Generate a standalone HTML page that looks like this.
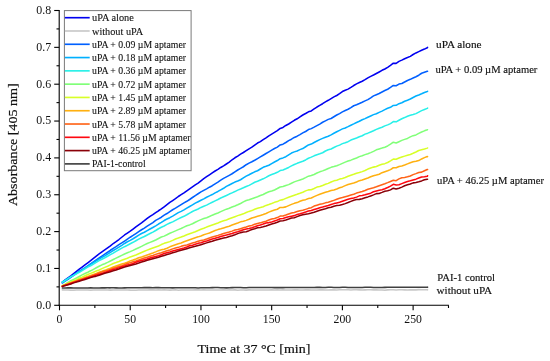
<!DOCTYPE html>
<html lang="en"><head><meta charset="utf-8"><title>Absorbance chart</title>
<style>html,body{margin:0;padding:0;background:#fff}body{width:550px;height:361px;overflow:hidden;position:relative}</style></head>
<body>
<svg width="550" height="361" viewBox="0 0 550 361" style="display:block;position:absolute;left:0;top:0">
<rect width="550" height="361" fill="#fff"/>
<g fill="none" stroke-width="1.55" stroke-linejoin="round" stroke-linecap="round">
<path d="M62.33 289.87 L65.16 289.91 L67.99 289.94 L70.82 290.19 L73.64 290.17 L76.47 290.07 L79.30 290.07 L82.13 290.09 L84.96 290.06 L87.79 289.96 L90.62 290.15 L93.45 290.01 L96.28 290.08 L99.11 290.08 L101.94 290.06 L104.76 289.94 L107.59 289.99 L110.42 290.11 L113.25 289.98 L116.08 290.00 L118.91 289.97 L121.74 290.04 L124.57 289.90 L127.40 289.97 L130.23 290.13 L133.05 290.15 L135.88 290.16 L138.71 289.96 L141.54 290.07 L144.37 290.03 L147.20 290.00 L150.03 289.86 L152.86 289.75 L155.69 290.00 L158.51 289.76 L161.34 289.92 L164.17 289.85 L167.00 290.01 L169.83 290.12 L172.66 289.92 L175.49 289.83 L178.32 290.15 L181.15 289.98 L183.98 289.95 L186.81 289.90 L189.63 290.09 L192.46 290.03 L195.29 289.86 L198.12 289.76 L200.95 289.95 L203.78 289.85 L206.61 289.94 L209.44 289.91 L212.27 290.00 L215.09 289.98 L217.92 290.01 L220.75 289.94 L223.58 289.82 L226.41 289.92 L229.24 289.87 L232.07 290.01 L234.90 289.86 L237.73 290.29 L240.56 290.09 L243.39 289.97 L246.21 290.13 L249.04 289.87 L251.87 289.91 L254.70 290.03 L257.53 289.92 L260.36 290.09 L263.19 290.02 L266.02 289.96 L268.85 290.10 L271.68 289.80 L274.50 289.99 L277.33 289.80 L280.16 289.93 L282.99 289.88 L285.82 290.01 L288.65 289.94 L291.48 289.95 L294.31 289.88 L297.14 289.75 L299.97 289.96 L302.79 289.92 L305.62 289.86 L308.45 289.80 L311.28 289.91 L314.11 289.93 L316.94 289.95 L319.77 289.89 L322.60 289.86 L325.43 289.96 L328.25 289.92 L331.08 289.80 L333.91 289.88 L336.74 289.94 L339.57 289.80 L342.40 289.80 L345.23 289.80 L348.06 289.80 L350.89 289.91 L353.72 289.84 L356.55 289.83 L359.37 289.85 L362.20 290.06 L365.03 289.86 L367.86 289.82 L370.69 289.80 L373.52 289.89 L376.35 289.85 L379.18 290.05 L382.01 290.02 L384.84 290.18 L387.66 289.87 L390.49 289.67 L393.32 289.65 L396.15 289.97 L398.98 289.77 L401.81 289.70 L404.64 289.87 L407.47 290.05 L410.30 289.68 L413.12 289.87 L415.95 289.87 L418.78 289.64 L421.61 289.77 L424.44 289.73 L427.27 289.65 L427.55 289.84" stroke="#c8c8c8"/>
<path d="M62.33 288.00 L65.16 287.96 L67.99 287.89 L70.82 287.89 L73.64 287.93 L76.47 287.97 L79.30 287.98 L82.13 287.96 L84.96 287.96 L87.79 287.92 L90.62 287.88 L93.45 287.94 L96.28 287.94 L99.11 287.98 L101.94 287.85 L104.76 287.85 L107.59 287.83 L110.42 287.85 L113.25 287.80 L116.08 287.87 L118.91 288.00 L121.74 287.98 L124.57 287.87 L127.40 287.76 L130.23 287.75 L133.05 287.79 L135.88 287.82 L138.71 287.74 L141.54 287.74 L144.37 287.63 L147.20 287.64 L150.03 287.60 L152.86 287.65 L155.69 287.57 L158.51 287.62 L161.34 287.68 L164.17 287.65 L167.00 287.76 L169.83 287.83 L172.66 287.86 L175.49 287.78 L178.32 287.79 L181.15 287.75 L183.98 287.69 L186.81 287.71 L189.63 287.68 L192.46 287.76 L195.29 287.82 L198.12 287.90 L200.95 287.80 L203.78 287.76 L206.61 287.68 L209.44 287.70 L212.27 287.64 L215.09 287.59 L217.92 287.58 L220.75 287.73 L223.58 287.83 L226.41 287.86 L229.24 287.73 L232.07 287.60 L234.90 287.59 L237.73 287.58 L240.56 287.58 L243.39 287.65 L246.21 287.70 L249.04 287.58 L251.87 287.47 L254.70 287.57 L257.53 287.58 L260.36 287.57 L263.19 287.55 L266.02 287.57 L268.85 287.52 L271.68 287.54 L274.50 287.61 L277.33 287.59 L280.16 287.64 L282.99 287.62 L285.82 287.59 L288.65 287.47 L291.48 287.49 L294.31 287.50 L297.14 287.47 L299.97 287.49 L302.79 287.52 L305.62 287.51 L308.45 287.51 L311.28 287.58 L314.11 287.51 L316.94 287.37 L319.77 287.36 L322.60 287.42 L325.43 287.42 L328.25 287.32 L331.08 287.28 L333.91 287.41 L336.74 287.53 L339.57 287.48 L342.40 287.27 L345.23 287.28 L348.06 287.42 L350.89 287.48 L353.72 287.46 L356.55 287.41 L359.37 287.46 L362.20 287.41 L365.03 287.35 L367.86 287.27 L370.69 287.35 L373.52 287.47 L376.35 287.55 L379.18 287.47 L382.01 287.44 L384.84 287.38 L387.66 287.28 L390.49 287.21 L393.32 287.28 L396.15 287.30 L398.98 287.21 L401.81 287.22 L404.64 287.29 L407.47 287.31 L410.30 287.29 L413.12 287.26 L415.95 287.23 L418.78 287.16 L421.61 287.24 L424.44 287.24 L427.27 287.21 L427.55 287.14" stroke="#404040"/>
<path d="M62.33 282.03 L65.16 279.92 L67.99 277.87 L70.82 275.83 L73.64 273.58 L76.47 271.36 L79.30 269.19 L82.13 267.05 L84.96 264.87 L87.79 262.77 L90.62 260.65 L93.45 258.31 L96.28 256.07 L99.11 253.90 L101.94 251.94 L104.76 249.93 L107.59 247.89 L110.42 245.80 L113.25 243.52 L116.08 241.57 L118.91 239.52 L121.74 237.25 L124.57 234.98 L127.40 233.03 L130.23 231.14 L133.05 229.03 L135.88 226.82 L138.71 224.82 L141.54 222.86 L144.37 220.72 L147.20 218.47 L150.03 216.37 L152.86 214.68 L155.69 212.72 L158.51 210.77 L161.34 208.91 L164.17 206.78 L167.00 204.61 L169.83 202.37 L172.66 200.53 L175.49 198.70 L178.32 196.51 L181.15 194.64 L183.98 192.86 L186.81 190.79 L189.63 188.79 L192.46 186.83 L195.29 184.88 L198.12 183.14 L200.95 180.94 L203.78 178.72 L206.61 176.73 L209.44 174.78 L212.27 172.82 L215.09 171.00 L217.92 169.39 L220.75 167.46 L223.58 165.85 L226.41 163.98 L229.24 162.09 L232.07 159.77 L234.90 157.77 L237.73 156.05 L240.56 154.08 L243.39 152.50 L246.21 150.66 L249.04 148.85 L251.87 147.15 L254.70 145.04 L257.53 143.04 L260.36 141.57 L263.19 139.65 L266.02 137.82 L268.85 135.81 L271.68 134.14 L274.50 132.41 L277.33 130.66 L280.16 128.42 L282.99 127.49 L285.82 125.49 L288.65 124.00 L291.48 122.11 L294.31 120.29 L297.14 118.78 L299.97 116.89 L302.79 114.99 L305.62 113.53 L308.45 111.79 L311.28 110.90 L314.11 108.93 L316.94 107.04 L319.77 105.37 L322.60 103.71 L325.43 101.87 L328.25 100.30 L331.08 98.58 L333.91 96.86 L336.74 95.48 L339.57 93.67 L342.40 91.57 L345.23 90.24 L348.06 89.14 L350.89 87.40 L353.72 85.53 L356.55 83.84 L359.37 82.53 L362.20 81.23 L365.03 79.68 L367.86 77.86 L370.69 76.37 L373.52 75.04 L376.35 73.53 L379.18 71.96 L382.01 70.32 L384.84 68.98 L387.66 67.30 L390.49 65.37 L393.32 63.19 L396.15 63.38 L398.98 61.36 L401.81 60.15 L404.64 58.71 L407.47 57.57 L410.30 56.34 L413.12 54.50 L415.95 52.94 L418.78 51.61 L421.61 50.24 L424.44 49.08 L427.27 47.76 L427.55 47.39" stroke="#0000f0"/>
<path d="M62.33 282.99 L65.16 281.11 L67.99 279.27 L70.82 277.29 L73.64 275.40 L76.47 273.44 L79.30 271.42 L82.13 269.61 L84.96 267.81 L87.79 265.81 L90.62 263.76 L93.45 261.76 L96.28 259.79 L99.11 257.99 L101.94 256.01 L104.76 254.11 L107.59 252.25 L110.42 250.27 L113.25 248.44 L116.08 246.64 L118.91 244.68 L121.74 242.95 L124.57 241.02 L127.40 239.09 L130.23 237.22 L133.05 235.46 L135.88 233.57 L138.71 231.66 L141.54 229.75 L144.37 228.06 L147.20 226.20 L150.03 224.42 L152.86 222.57 L155.69 220.39 L158.51 218.83 L161.34 217.21 L164.17 215.18 L167.00 213.52 L169.83 211.62 L172.66 209.76 L175.49 208.16 L178.32 206.42 L181.15 204.63 L183.98 202.88 L186.81 201.30 L189.63 199.50 L192.46 197.50 L195.29 195.53 L198.12 193.73 L200.95 191.89 L203.78 190.32 L206.61 188.82 L209.44 187.20 L212.27 185.71 L215.09 183.93 L217.92 182.10 L220.75 180.17 L223.58 178.40 L226.41 176.89 L229.24 175.33 L232.07 173.74 L234.90 171.85 L237.73 170.02 L240.56 168.37 L243.39 166.75 L246.21 164.72 L249.04 163.12 L251.87 161.78 L254.70 160.28 L257.53 158.61 L260.36 156.89 L263.19 155.24 L266.02 153.52 L268.85 151.79 L271.68 150.06 L274.50 148.54 L277.33 147.17 L280.16 144.98 L282.99 144.17 L285.82 142.51 L288.65 140.62 L291.48 139.19 L294.31 137.46 L297.14 136.17 L299.97 134.60 L302.79 132.92 L305.62 131.51 L308.45 129.60 L311.28 128.62 L314.11 127.18 L316.94 125.65 L319.77 124.06 L322.60 122.24 L325.43 120.83 L328.25 119.38 L331.08 118.52 L333.91 116.74 L336.74 115.01 L339.57 113.59 L342.40 111.92 L345.23 110.54 L348.06 109.28 L350.89 107.56 L353.72 105.73 L356.55 104.70 L359.37 103.52 L362.20 102.23 L365.03 100.86 L367.86 99.66 L370.69 97.91 L373.52 95.91 L376.35 94.68 L379.18 93.48 L382.01 91.97 L384.84 90.48 L387.66 89.25 L390.49 87.44 L393.32 85.45 L396.15 85.70 L398.98 84.11 L401.81 83.54 L404.64 82.04 L407.47 80.47 L410.30 79.33 L413.12 77.98 L415.95 76.75 L418.78 75.22 L421.61 73.25 L424.44 72.29 L427.27 71.27 L427.55 71.19" stroke="#0060ff"/>
<path d="M62.33 282.20 L65.16 280.31 L67.99 278.48 L70.82 276.67 L73.64 275.06 L76.47 273.18 L79.30 271.43 L82.13 269.73 L84.96 267.84 L87.79 266.12 L90.62 264.21 L93.45 262.48 L96.28 260.77 L99.11 259.06 L101.94 257.36 L104.76 255.84 L107.59 254.03 L110.42 252.29 L113.25 250.52 L116.08 248.79 L118.91 247.09 L121.74 245.44 L124.57 243.47 L127.40 241.72 L130.23 240.33 L133.05 238.72 L135.88 236.97 L138.71 235.15 L141.54 233.51 L144.37 232.21 L147.20 230.64 L150.03 229.04 L152.86 227.47 L155.69 225.83 L158.51 224.03 L161.34 222.41 L164.17 220.53 L167.00 218.98 L169.83 217.68 L172.66 216.17 L175.49 214.42 L178.32 212.64 L181.15 211.33 L183.98 209.89 L186.81 208.12 L189.63 206.48 L192.46 204.94 L195.29 203.16 L198.12 201.70 L200.95 200.27 L203.78 198.88 L206.61 197.30 L209.44 195.86 L212.27 194.55 L215.09 192.85 L217.92 191.45 L220.75 189.85 L223.58 188.29 L226.41 186.39 L229.24 184.95 L232.07 183.47 L234.90 182.07 L237.73 181.04 L240.56 179.75 L243.39 177.93 L246.21 176.18 L249.04 174.75 L251.87 173.21 L254.70 171.84 L257.53 170.72 L260.36 168.99 L263.19 167.29 L266.02 166.32 L268.85 165.22 L271.68 163.56 L274.50 162.02 L277.33 160.54 L280.16 158.66 L282.99 157.90 L285.82 156.69 L288.65 154.79 L291.48 153.06 L294.31 151.87 L297.14 150.95 L299.97 149.61 L302.79 148.57 L305.62 146.77 L308.45 144.92 L311.28 144.08 L314.11 142.52 L316.94 141.06 L319.77 139.61 L322.60 138.37 L325.43 137.22 L328.25 136.29 L331.08 134.89 L333.91 133.30 L336.74 131.77 L339.57 130.34 L342.40 128.88 L345.23 127.94 L348.06 126.63 L350.89 125.19 L353.72 123.91 L356.55 122.55 L359.37 121.29 L362.20 119.75 L365.03 118.60 L367.86 117.20 L370.69 115.95 L373.52 114.63 L376.35 113.77 L379.18 112.34 L382.01 111.09 L384.84 109.66 L387.66 108.30 L390.49 107.28 L393.32 105.43 L396.15 105.35 L398.98 103.67 L401.81 102.69 L404.64 101.25 L407.47 100.18 L410.30 98.96 L413.12 97.45 L415.95 96.04 L418.78 95.00 L421.61 93.79 L424.44 92.46 L427.27 91.47 L427.55 91.26" stroke="#00b0ff"/>
<path d="M62.33 282.24 L65.16 280.49 L67.99 278.67 L70.82 276.92 L73.64 275.37 L76.47 273.85 L79.30 272.29 L82.13 270.56 L84.96 268.80 L87.79 267.18 L90.62 265.73 L93.45 264.05 L96.28 262.31 L99.11 260.64 L101.94 259.21 L104.76 257.78 L107.59 256.24 L110.42 254.66 L113.25 253.06 L116.08 251.34 L118.91 249.72 L121.74 248.19 L124.57 246.68 L127.40 245.30 L130.23 243.78 L133.05 242.31 L135.88 240.73 L138.71 239.11 L141.54 237.81 L144.37 236.54 L147.20 234.95 L150.03 233.50 L152.86 232.13 L155.69 230.53 L158.51 228.77 L161.34 227.23 L164.17 225.98 L167.00 224.43 L169.83 223.01 L172.66 221.85 L175.49 220.38 L178.32 218.89 L181.15 217.54 L183.98 216.32 L186.81 214.75 L189.63 213.07 L192.46 211.55 L195.29 210.17 L198.12 208.98 L200.95 207.43 L203.78 206.24 L206.61 205.14 L209.44 203.61 L212.27 202.27 L215.09 200.87 L217.92 199.51 L220.75 198.03 L223.58 196.81 L226.41 195.55 L229.24 194.08 L232.07 192.84 L234.90 191.58 L237.73 190.10 L240.56 189.00 L243.39 187.82 L246.21 186.57 L249.04 185.38 L251.87 183.83 L254.70 182.21 L257.53 181.22 L260.36 180.01 L263.19 178.84 L266.02 177.41 L268.85 175.74 L271.68 174.55 L274.50 173.57 L277.33 172.33 L280.16 170.61 L282.99 169.99 L285.82 168.76 L288.65 167.43 L291.48 165.92 L294.31 164.54 L297.14 163.35 L299.97 162.33 L302.79 161.29 L305.62 159.93 L308.45 158.27 L311.28 157.14 L314.11 155.84 L316.94 154.67 L319.77 153.77 L322.60 152.74 L325.43 151.01 L328.25 149.74 L331.08 148.97 L333.91 147.53 L336.74 146.13 L339.57 145.14 L342.40 143.62 L345.23 142.73 L348.06 141.67 L350.89 140.05 L353.72 138.98 L356.55 137.97 L359.37 136.71 L362.20 135.76 L365.03 134.11 L367.86 133.16 L370.69 131.96 L373.52 130.78 L376.35 129.41 L379.18 128.19 L382.01 127.25 L384.84 125.89 L387.66 124.88 L390.49 123.58 L393.32 121.61 L396.15 121.85 L398.98 120.28 L401.81 118.73 L404.64 117.58 L407.47 116.22 L410.30 115.23 L413.12 114.57 L415.95 113.63 L418.78 112.13 L421.61 110.62 L424.44 109.50 L427.27 108.40 L427.55 108.10" stroke="#28f0e8"/>
<path d="M62.33 285.60 L65.16 284.07 L67.99 282.36 L70.82 280.70 L73.64 279.36 L76.47 278.03 L79.30 276.46 L82.13 274.93 L84.96 273.50 L87.79 272.20 L90.62 270.82 L93.45 269.31 L96.28 267.78 L99.11 266.22 L101.94 264.82 L104.76 263.70 L107.59 262.38 L110.42 260.95 L113.25 259.55 L116.08 258.10 L118.91 256.72 L121.74 255.35 L124.57 253.95 L127.40 252.78 L130.23 251.64 L133.05 250.39 L135.88 249.02 L138.71 247.73 L141.54 246.42 L144.37 244.85 L147.20 243.53 L150.03 242.36 L152.86 241.19 L155.69 240.00 L158.51 238.54 L161.34 237.05 L164.17 236.12 L167.00 234.69 L169.83 233.27 L172.66 232.10 L175.49 230.90 L178.32 229.62 L181.15 228.53 L183.98 227.10 L186.81 225.79 L189.63 224.89 L192.46 223.72 L195.29 222.31 L198.12 220.90 L200.95 219.63 L203.78 218.59 L206.61 217.67 L209.44 216.55 L212.27 215.17 L215.09 213.97 L217.92 212.97 L220.75 211.67 L223.58 210.35 L226.41 209.16 L229.24 208.22 L232.07 207.01 L234.90 206.02 L237.73 204.82 L240.56 203.47 L243.39 201.91 L246.21 200.53 L249.04 199.81 L251.87 198.78 L254.70 197.68 L257.53 196.82 L260.36 195.57 L263.19 194.50 L266.02 192.97 L268.85 191.76 L271.68 190.91 L274.50 189.94 L277.33 188.52 L280.16 186.98 L282.99 186.50 L285.82 185.45 L288.65 184.62 L291.48 183.20 L294.31 181.88 L297.14 180.88 L299.97 179.93 L302.79 178.96 L305.62 177.63 L308.45 176.16 L311.28 175.53 L314.11 174.46 L316.94 173.07 L319.77 171.85 L322.60 170.87 L325.43 169.69 L328.25 168.44 L331.08 167.35 L333.91 166.56 L336.74 165.68 L339.57 164.63 L342.40 163.41 L345.23 162.13 L348.06 161.00 L350.89 160.14 L353.72 159.10 L356.55 158.05 L359.37 156.64 L362.20 155.69 L365.03 154.63 L367.86 153.69 L370.69 152.60 L373.52 151.36 L376.35 149.82 L379.18 148.89 L382.01 148.08 L384.84 147.18 L387.66 145.95 L390.49 144.19 L393.32 142.23 L396.15 142.97 L398.98 141.68 L401.81 140.37 L404.64 139.39 L407.47 138.42 L410.30 136.89 L413.12 135.64 L415.95 134.89 L418.78 133.43 L421.61 131.94 L424.44 130.85 L427.27 129.84 L427.55 129.73" stroke="#80ff78"/>
<path d="M62.33 285.75 L65.16 284.55 L67.99 283.24 L70.82 282.07 L73.64 280.78 L76.47 279.62 L79.30 278.31 L82.13 277.10 L84.96 275.77 L87.79 274.54 L90.62 273.39 L93.45 272.20 L96.28 271.00 L99.11 270.00 L101.94 268.67 L104.76 267.40 L107.59 266.19 L110.42 264.87 L113.25 263.49 L116.08 262.59 L118.91 261.51 L121.74 260.34 L124.57 259.18 L127.40 258.25 L130.23 256.89 L133.05 255.95 L135.88 255.06 L138.71 253.80 L141.54 252.49 L144.37 251.28 L147.20 250.13 L150.03 248.94 L152.86 247.90 L155.69 246.92 L158.51 245.97 L161.34 244.57 L164.17 243.34 L167.00 242.48 L169.83 241.63 L172.66 240.38 L175.49 238.94 L178.32 238.04 L181.15 237.07 L183.98 235.94 L186.81 234.71 L189.63 233.76 L192.46 232.82 L195.29 231.79 L198.12 230.48 L200.95 229.23 L203.78 228.23 L206.61 227.10 L209.44 226.10 L212.27 225.08 L215.09 224.03 L217.92 222.95 L220.75 221.77 L223.58 220.81 L226.41 219.94 L229.24 218.84 L232.07 217.76 L234.90 216.66 L237.73 215.62 L240.56 214.68 L243.39 213.85 L246.21 212.55 L249.04 211.40 L251.87 210.61 L254.70 209.29 L257.53 208.35 L260.36 207.60 L263.19 206.73 L266.02 205.40 L268.85 204.55 L271.68 203.51 L274.50 202.37 L277.33 201.58 L280.16 200.16 L282.99 199.63 L285.82 198.38 L288.65 197.17 L291.48 196.15 L294.31 195.20 L297.14 194.31 L299.97 193.32 L302.79 192.26 L305.62 190.88 L308.45 189.87 L311.28 189.73 L314.11 188.50 L316.94 187.08 L319.77 186.46 L322.60 185.41 L325.43 184.27 L328.25 183.37 L331.08 181.96 L333.91 180.85 L336.74 180.22 L339.57 179.12 L342.40 178.43 L345.23 177.52 L348.06 176.24 L350.89 175.21 L353.72 174.30 L356.55 173.21 L359.37 172.59 L362.20 171.64 L365.03 170.50 L367.86 169.08 L370.69 167.93 L373.52 167.12 L376.35 166.48 L379.18 165.27 L382.01 164.24 L384.84 163.65 L387.66 162.50 L390.49 160.83 L393.32 159.04 L396.15 159.26 L398.98 158.01 L401.81 157.04 L404.64 156.12 L407.47 155.25 L410.30 154.41 L413.12 153.31 L415.95 152.05 L418.78 150.51 L421.61 149.82 L424.44 149.07 L427.27 148.12 L427.55 147.97" stroke="#d8ff28"/>
<path d="M62.33 285.96 L65.16 284.85 L67.99 283.79 L70.82 282.71 L73.64 281.74 L76.47 280.61 L79.30 279.54 L82.13 278.63 L84.96 277.51 L87.79 276.43 L90.62 275.45 L93.45 274.49 L96.28 273.49 L99.11 272.25 L101.94 271.35 L104.76 270.35 L107.59 269.21 L110.42 268.28 L113.25 267.05 L116.08 265.97 L118.91 264.97 L121.74 264.07 L124.57 263.23 L127.40 262.19 L130.23 260.87 L133.05 259.95 L135.88 258.93 L138.71 257.75 L141.54 256.91 L144.37 255.94 L147.20 254.90 L150.03 253.92 L152.86 253.01 L155.69 251.89 L158.51 250.64 L161.34 249.79 L164.17 249.28 L167.00 248.20 L169.83 246.85 L172.66 245.82 L175.49 244.81 L178.32 243.76 L181.15 242.96 L183.98 241.71 L186.81 240.71 L189.63 239.72 L192.46 238.72 L195.29 237.70 L198.12 236.86 L200.95 235.91 L203.78 234.75 L206.61 233.87 L209.44 233.00 L212.27 231.68 L215.09 230.56 L217.92 229.61 L220.75 228.82 L223.58 227.91 L226.41 227.06 L229.24 226.16 L232.07 225.03 L234.90 224.02 L237.73 223.03 L240.56 221.86 L243.39 221.30 L246.21 220.37 L249.04 219.20 L251.87 217.95 L254.70 217.14 L257.53 216.30 L260.36 215.42 L263.19 214.49 L266.02 213.46 L268.85 212.10 L271.68 211.03 L274.50 210.11 L277.33 209.22 L280.16 207.45 L282.99 207.52 L285.82 206.87 L288.65 205.59 L291.48 204.37 L294.31 203.36 L297.14 202.59 L299.97 201.32 L302.79 200.18 L305.62 199.64 L308.45 198.55 L311.28 197.97 L314.11 196.60 L316.94 195.36 L319.77 194.35 L322.60 193.32 L325.43 192.30 L328.25 191.50 L331.08 190.57 L333.91 189.93 L336.74 188.98 L339.57 187.83 L342.40 186.91 L345.23 185.63 L348.06 184.43 L350.89 183.69 L353.72 183.04 L356.55 181.98 L359.37 180.67 L362.20 179.96 L365.03 178.96 L367.86 177.96 L370.69 176.84 L373.52 175.70 L376.35 175.09 L379.18 174.21 L382.01 172.69 L384.84 171.72 L387.66 170.76 L390.49 169.62 L393.32 167.77 L396.15 167.69 L398.98 166.54 L401.81 165.95 L404.64 165.04 L407.47 163.87 L410.30 162.82 L413.12 161.84 L415.95 161.28 L418.78 160.56 L421.61 158.94 L424.44 157.61 L427.27 156.51 L427.55 156.65" stroke="#ffb010"/>
<path d="M62.33 286.08 L65.16 285.09 L67.99 284.01 L70.82 283.00 L73.64 281.93 L76.47 280.96 L79.30 279.98 L82.13 279.00 L84.96 278.08 L87.79 277.20 L90.62 276.19 L93.45 275.31 L96.28 274.10 L99.11 272.94 L101.94 271.90 L104.76 271.12 L107.59 270.38 L110.42 269.43 L113.25 268.24 L116.08 267.46 L118.91 266.50 L121.74 265.76 L124.57 264.66 L127.40 263.56 L130.23 262.67 L133.05 261.83 L135.88 261.03 L138.71 260.08 L141.54 258.95 L144.37 258.06 L147.20 257.23 L150.03 256.36 L152.86 255.51 L155.69 254.38 L158.51 253.46 L161.34 252.80 L164.17 251.83 L167.00 250.85 L169.83 250.03 L172.66 248.87 L175.49 248.03 L178.32 247.37 L181.15 246.36 L183.98 245.47 L186.81 244.90 L189.63 243.94 L192.46 243.09 L195.29 242.23 L198.12 241.29 L200.95 240.61 L203.78 239.96 L206.61 239.08 L209.44 237.97 L212.27 236.96 L215.09 236.19 L217.92 235.38 L220.75 234.44 L223.58 233.40 L226.41 232.68 L229.24 232.06 L232.07 231.12 L234.90 230.09 L237.73 229.45 L240.56 228.65 L243.39 227.79 L246.21 226.99 L249.04 226.04 L251.87 225.41 L254.70 224.21 L257.53 223.54 L260.36 222.86 L263.19 221.90 L266.02 221.19 L268.85 220.03 L271.68 219.08 L274.50 218.47 L277.33 217.58 L280.16 216.08 L282.99 215.90 L285.82 215.00 L288.65 213.95 L291.48 212.97 L294.31 212.42 L297.14 211.52 L299.97 210.65 L302.79 210.32 L305.62 209.36 L308.45 208.36 L311.28 207.65 L314.11 206.11 L316.94 205.25 L319.77 204.36 L322.60 203.71 L325.43 202.87 L328.25 202.16 L331.08 201.35 L333.91 200.36 L336.74 199.30 L339.57 198.22 L342.40 197.57 L345.23 196.73 L348.06 195.91 L350.89 195.09 L353.72 194.31 L356.55 193.10 L359.37 192.35 L362.20 191.46 L365.03 190.47 L367.86 189.34 L370.69 188.48 L373.52 187.71 L376.35 186.78 L379.18 185.77 L382.01 184.75 L384.84 183.78 L387.66 182.65 L390.49 181.43 L393.32 180.23 L396.15 180.67 L398.98 178.86 L401.81 177.76 L404.64 177.41 L407.47 176.81 L410.30 176.03 L413.12 174.63 L415.95 173.63 L418.78 172.44 L421.61 172.11 L424.44 170.78 L427.27 169.50 L427.55 169.56" stroke="#ff6418"/>
<path d="M62.33 286.39 L65.16 285.39 L67.99 284.47 L70.82 283.51 L73.64 282.55 L76.47 281.63 L79.30 280.64 L82.13 279.63 L84.96 278.76 L87.79 277.84 L90.62 276.93 L93.45 275.94 L96.28 275.11 L99.11 274.17 L101.94 273.53 L104.76 272.56 L107.59 271.55 L110.42 270.40 L113.25 269.54 L116.08 268.82 L118.91 267.82 L121.74 266.72 L124.57 265.89 L127.40 265.06 L130.23 264.40 L133.05 263.51 L135.88 262.29 L138.71 261.22 L141.54 260.58 L144.37 259.74 L147.20 258.92 L150.03 257.90 L152.86 257.15 L155.69 256.42 L158.51 255.68 L161.34 254.65 L164.17 253.58 L167.00 252.64 L169.83 251.98 L172.66 251.00 L175.49 250.22 L178.32 249.46 L181.15 248.73 L183.98 248.00 L186.81 246.98 L189.63 245.82 L192.46 245.22 L195.29 244.32 L198.12 243.36 L200.95 242.81 L203.78 241.78 L206.61 240.92 L209.44 239.98 L212.27 239.05 L215.09 238.34 L217.92 237.52 L220.75 236.54 L223.58 235.74 L226.41 235.11 L229.24 234.33 L232.07 233.51 L234.90 232.44 L237.73 231.81 L240.56 230.79 L243.39 229.66 L246.21 228.97 L249.04 228.42 L251.87 227.73 L254.70 226.81 L257.53 225.73 L260.36 224.94 L263.19 224.05 L266.02 222.97 L268.85 222.61 L271.68 221.93 L274.50 221.02 L277.33 220.07 L280.16 218.76 L282.99 218.45 L285.82 217.48 L288.65 216.68 L291.48 216.18 L294.31 215.63 L297.14 214.42 L299.97 213.71 L302.79 212.91 L305.62 212.04 L308.45 211.07 L311.28 210.49 L314.11 209.48 L316.94 208.64 L319.77 207.79 L322.60 207.12 L325.43 206.31 L328.25 205.56 L331.08 204.58 L333.91 203.61 L336.74 202.95 L339.57 202.33 L342.40 201.29 L345.23 200.21 L348.06 199.22 L350.89 198.61 L353.72 198.01 L356.55 197.13 L359.37 195.85 L362.20 195.47 L365.03 194.82 L367.86 193.90 L370.69 193.15 L373.52 191.82 L376.35 190.94 L379.18 190.21 L382.01 189.66 L384.84 188.70 L387.66 187.48 L390.49 186.13 L393.32 184.31 L396.15 185.02 L398.98 184.69 L401.81 183.62 L404.64 182.59 L407.47 181.49 L410.30 180.76 L413.12 179.92 L415.95 179.13 L418.78 178.02 L421.61 177.03 L424.44 176.75 L427.27 176.35 L427.55 175.69" stroke="#ff0810"/>
<path d="M62.33 286.38 L65.16 285.57 L67.99 284.79 L70.82 283.91 L73.64 282.88 L76.47 282.01 L79.30 281.20 L82.13 280.36 L84.96 279.46 L87.79 278.55 L90.62 277.56 L93.45 276.69 L96.28 276.12 L99.11 275.26 L101.94 274.22 L104.76 273.34 L107.59 272.61 L110.42 271.70 L113.25 270.77 L116.08 269.91 L118.91 269.04 L121.74 268.09 L124.57 267.11 L127.40 266.24 L130.23 265.41 L133.05 264.64 L135.88 263.92 L138.71 263.03 L141.54 262.04 L144.37 261.19 L147.20 260.30 L150.03 259.50 L152.86 258.69 L155.69 257.89 L158.51 257.24 L161.34 256.32 L164.17 255.41 L167.00 254.46 L169.83 253.73 L172.66 252.86 L175.49 252.04 L178.32 251.09 L181.15 250.22 L183.98 249.50 L186.81 248.66 L189.63 247.77 L192.46 246.91 L195.29 246.20 L198.12 245.39 L200.95 244.65 L203.78 243.87 L206.61 242.88 L209.44 242.02 L212.27 241.26 L215.09 240.24 L217.92 239.58 L220.75 238.66 L223.58 237.94 L226.41 237.39 L229.24 236.50 L232.07 235.77 L234.90 234.74 L237.73 233.63 L240.56 232.63 L243.39 232.06 L246.21 231.65 L249.04 230.65 L251.87 229.51 L254.70 228.73 L257.53 227.85 L260.36 227.39 L263.19 226.75 L266.02 226.02 L268.85 224.97 L271.68 223.92 L274.50 223.31 L277.33 222.32 L280.16 220.99 L282.99 220.67 L285.82 220.02 L288.65 219.08 L291.48 218.06 L294.31 217.65 L297.14 216.61 L299.97 215.58 L302.79 214.85 L305.62 214.18 L308.45 213.76 L311.28 213.08 L314.11 212.22 L316.94 211.29 L319.77 210.32 L322.60 209.46 L325.43 208.77 L328.25 207.86 L331.08 207.27 L333.91 206.17 L336.74 205.56 L339.57 205.18 L342.40 204.49 L345.23 203.63 L348.06 202.55 L350.89 201.34 L353.72 200.20 L356.55 199.59 L359.37 199.38 L362.20 198.81 L365.03 197.69 L367.86 196.89 L370.69 195.91 L373.52 194.86 L376.35 193.64 L379.18 193.44 L382.01 192.35 L384.84 191.17 L387.66 190.82 L390.49 189.87 L393.32 188.16 L396.15 189.09 L398.98 188.24 L401.81 187.13 L404.64 185.82 L407.47 184.84 L410.30 184.02 L413.12 182.87 L415.95 182.45 L418.78 181.80 L421.61 180.90 L424.44 179.80 L427.27 179.19 L427.55 179.18" stroke="#8a0008"/>
</g>
<g stroke="#000" stroke-width="1.1" fill="none">
<path d="M59.2 10 V305.85"/>
<path d="M58.65 305.3 H448.9"/>
<path d="M54.2 305.30 H59.2"/>
<path d="M54.2 268.45 H59.2"/>
<path d="M54.2 231.60 H59.2"/>
<path d="M54.2 194.75 H59.2"/>
<path d="M54.2 157.90 H59.2"/>
<path d="M54.2 121.05 H59.2"/>
<path d="M54.2 84.20 H59.2"/>
<path d="M54.2 47.35 H59.2"/>
<path d="M54.2 10.50 H59.2"/>
<path d="M56.5 286.88 H59.2"/>
<path d="M56.5 250.03 H59.2"/>
<path d="M56.5 213.18 H59.2"/>
<path d="M56.5 176.32 H59.2"/>
<path d="M56.5 139.47 H59.2"/>
<path d="M56.5 102.62 H59.2"/>
<path d="M56.5 65.77 H59.2"/>
<path d="M56.5 28.92 H59.2"/>
<path d="M59.50 305.3 V310.3"/>
<path d="M130.23 305.3 V310.3"/>
<path d="M200.95 305.3 V310.3"/>
<path d="M271.68 305.3 V310.3"/>
<path d="M342.40 305.3 V310.3"/>
<path d="M413.12 305.3 V310.3"/>
<path d="M94.86 305.3 V308"/>
<path d="M165.59 305.3 V308"/>
<path d="M236.31 305.3 V308"/>
<path d="M307.04 305.3 V308"/>
<path d="M377.76 305.3 V308"/>
<path d="M448.49 305.3 V308"/>
</g>
<g font-family="'Liberation Serif', serif" font-size="13.5" fill="#111">
<text x="36.2" y="308.70" textLength="14.9" lengthAdjust="spacingAndGlyphs">0.0</text>
<text x="36.2" y="271.85" textLength="14.9" lengthAdjust="spacingAndGlyphs">0.1</text>
<text x="36.2" y="235.00" textLength="14.9" lengthAdjust="spacingAndGlyphs">0.2</text>
<text x="36.2" y="198.15" textLength="14.9" lengthAdjust="spacingAndGlyphs">0.3</text>
<text x="36.2" y="161.30" textLength="14.9" lengthAdjust="spacingAndGlyphs">0.4</text>
<text x="36.2" y="124.45" textLength="14.9" lengthAdjust="spacingAndGlyphs">0.5</text>
<text x="36.2" y="87.60" textLength="14.9" lengthAdjust="spacingAndGlyphs">0.6</text>
<text x="36.2" y="50.75" textLength="14.9" lengthAdjust="spacingAndGlyphs">0.7</text>
<text x="36.2" y="13.90" textLength="14.9" lengthAdjust="spacingAndGlyphs">0.8</text>
<text x="56.56" y="322.6" textLength="5.87" lengthAdjust="spacingAndGlyphs">0</text>
<text x="124.36" y="322.6" textLength="11.74" lengthAdjust="spacingAndGlyphs">50</text>
<text x="192.15" y="322.6" textLength="17.61" lengthAdjust="spacingAndGlyphs">100</text>
<text x="262.87" y="322.6" textLength="17.61" lengthAdjust="spacingAndGlyphs">150</text>
<text x="333.60" y="322.6" textLength="17.61" lengthAdjust="spacingAndGlyphs">200</text>
<text x="404.32" y="322.6" textLength="17.61" lengthAdjust="spacingAndGlyphs">250</text>
</g>
<rect x="64.4" y="10.6" width="126.7" height="160.1" fill="#fff" stroke="#7a7a7a" stroke-width="1"/>
<g font-family="'Liberation Serif', serif" font-size="9.8" fill="#111" stroke="#111" stroke-width="0.1">
<path d="M64.9 17.70 H89.7" stroke="#0000f0" stroke-width="1.65" fill="none"/>
<text x="92" y="21.30" textLength="41.8" lengthAdjust="spacingAndGlyphs">uPA alone</text>
<path d="M64.9 30.99 H89.7" stroke="#c8c8c8" stroke-width="1.65" fill="none"/>
<text x="92" y="34.59" textLength="51.2" lengthAdjust="spacingAndGlyphs">without uPA</text>
<path d="M64.9 44.28 H89.7" stroke="#0060ff" stroke-width="1.65" fill="none"/>
<text x="92" y="47.88" textLength="94" lengthAdjust="spacingAndGlyphs">uPA + 0.09 µM aptamer</text>
<path d="M64.9 57.57 H89.7" stroke="#00b0ff" stroke-width="1.65" fill="none"/>
<text x="92" y="61.17" textLength="94" lengthAdjust="spacingAndGlyphs">uPA + 0.18 µM aptamer</text>
<path d="M64.9 70.86 H89.7" stroke="#28f0e8" stroke-width="1.65" fill="none"/>
<text x="92" y="74.46" textLength="94" lengthAdjust="spacingAndGlyphs">uPA + 0.36 µM aptamer</text>
<path d="M64.9 84.15 H89.7" stroke="#80ff78" stroke-width="1.65" fill="none"/>
<text x="92" y="87.75" textLength="94" lengthAdjust="spacingAndGlyphs">uPA + 0.72 µM aptamer</text>
<path d="M64.9 97.44 H89.7" stroke="#d8ff28" stroke-width="1.65" fill="none"/>
<text x="92" y="101.04" textLength="94" lengthAdjust="spacingAndGlyphs">uPA + 1.45 µM aptamer</text>
<path d="M64.9 110.73 H89.7" stroke="#ffb010" stroke-width="1.65" fill="none"/>
<text x="92" y="114.33" textLength="94" lengthAdjust="spacingAndGlyphs">uPA + 2.89 µM aptamer</text>
<path d="M64.9 124.02 H89.7" stroke="#ff6418" stroke-width="1.65" fill="none"/>
<text x="92" y="127.62" textLength="94" lengthAdjust="spacingAndGlyphs">uPA + 5.78 µM aptamer</text>
<path d="M64.9 137.31 H89.7" stroke="#ff0810" stroke-width="1.65" fill="none"/>
<text x="92" y="140.91" textLength="98.5" lengthAdjust="spacingAndGlyphs">uPA + 11.56 µM aptamer</text>
<path d="M64.9 150.60 H89.7" stroke="#8a0008" stroke-width="1.65" fill="none"/>
<text x="92" y="154.20" textLength="98.5" lengthAdjust="spacingAndGlyphs">uPA + 46.25 µM aptamer</text>
<path d="M64.9 163.89 H89.7" stroke="#404040" stroke-width="1.65" fill="none"/>
<text x="92" y="167.49" textLength="53.6" lengthAdjust="spacingAndGlyphs">PAI-1-control</text>
</g>
<g font-family="'Liberation Serif', serif" font-size="10.8" fill="#111" stroke="#111" stroke-width="0.15">
<text x="436.1" y="48.4" textLength="45.4" lengthAdjust="spacingAndGlyphs">uPA alone</text>
<text x="435.4" y="72.6" textLength="102" lengthAdjust="spacingAndGlyphs">uPA + 0.09 µM aptamer</text>
<text x="437" y="184.1" textLength="107" lengthAdjust="spacingAndGlyphs">uPA + 46.25 µM aptamer</text>
<text x="437.3" y="281.3" textLength="57.7" lengthAdjust="spacingAndGlyphs">PAI-1 control</text>
<text x="436.5" y="293.6" textLength="55.6" lengthAdjust="spacingAndGlyphs">without uPA</text>
</g>
<g font-family="'Liberation Serif', serif" font-size="13" fill="#111" stroke="#111" stroke-width="0.2">
<text x="197.6" y="352.6" textLength="112.7" lengthAdjust="spacingAndGlyphs">Time at 37 °C [min]</text>
<text transform="translate(16.5 206.1) rotate(-90)" textLength="122.8" lengthAdjust="spacingAndGlyphs">Absorbance [405 nm]</text>
</g>
</svg>
</body></html>
